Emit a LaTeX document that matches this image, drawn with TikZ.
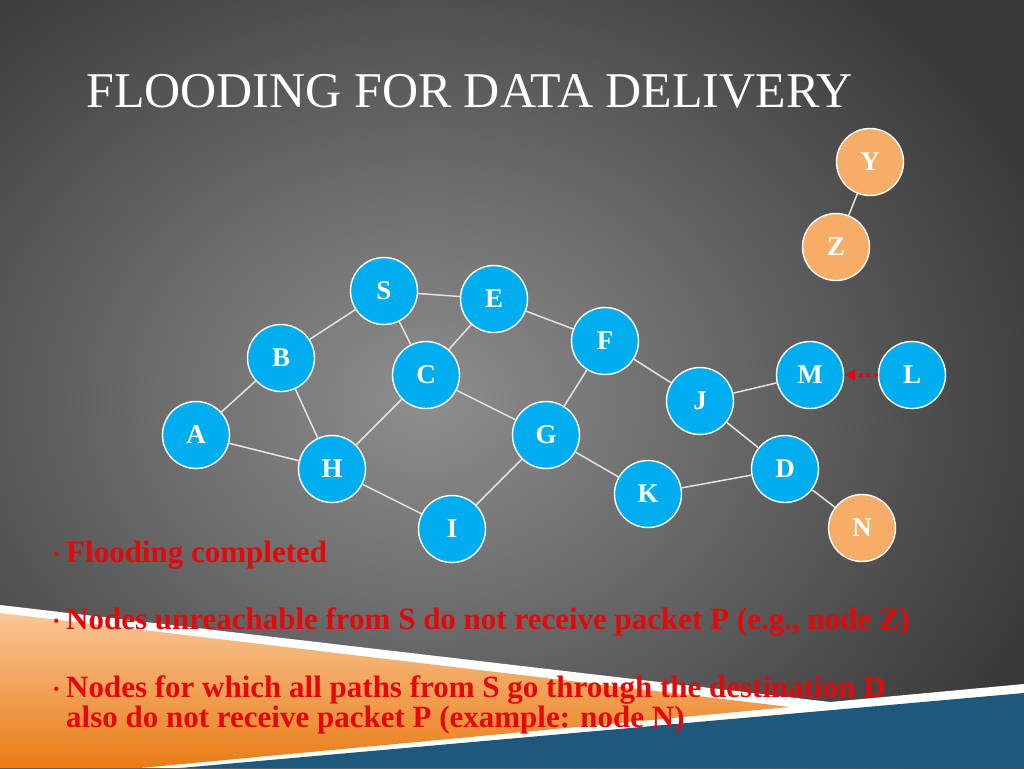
\documentclass[tikz,border=0pt]{standalone}
\usepackage{fontspec}
\setmainfont{Liberation Serif}
\usetikzlibrary{arrows.meta}
\definecolor{nodeblue}{RGB}{0,174,239}
\definecolor{nodeorange}{RGB}{246,173,104}
\definecolor{bandblue}{RGB}{30,88,124}
\definecolor{txtred}{RGB}{228,8,10}
\definecolor{edgegray}{RGB}{228,228,228}
\definecolor{bgin}{RGB}{142,142,142}
\definecolor{bgout}{RGB}{56,56,56}
\definecolor{orlight}{RGB}{249,198,150}
\definecolor{ordark}{RGB}{233,124,22}
\tikzset{
  bnode/.style={circle, draw=white, line width=1.4pt, fill=nodeblue, minimum size=67pt,
    inner sep=0pt, text=white, font=\bfseries\fontsize{27}{27}\selectfont},
  onode/.style={bnode, fill=nodeorange},
  edge/.style={edgegray, line width=1.5pt},
  bullettext/.style={anchor=base west, inner sep=0pt, text=txtred, align=left,
    font=\bfseries\fontsize{31}{28}\selectfont}
}
\newcommand{\bul}{\llap{\raisebox{3pt}{\fontsize{16}{16}\selectfont\textbullet}\hspace{7pt}}}

\begin{document}
\begin{tikzpicture}[x=1pt,y=-1pt]
        \useasboundingbox (0,0) rectangle (1024,768);
        \begin{scope}
        \clip (0,0) rectangle (1024,768);
        \shade[inner color=bgin, outer color=bgout] (-250,-150) rectangle (1100,950);
        \end{scope}
        % bottom bands
        \fill[white] (0,605) -- (830,702) -- (1024,684) -- (1024,768) -- (0,768) -- cycle;
        \shade[top color=orlight, bottom color=ordark] (0,613) -- (790,707) -- (140,768) -- (0,768) -- cycle;
        \fill[bandblue] (180,768) -- (1024,693) -- (1024,768) -- cycle;

        \node[anchor=base west, inner sep=0pt, text=white, font=\fontsize{50}{50}\selectfont] (title) at (86,107) {FLOODING FOR DATA DELIVERY};

        \foreach \n/\x/\y in {S/384/291, E/494/299, B/281/358, C/426/375, A/196/435, H/332/469,
                G/546/435, I/452/529, F/605/341, J/700/401, M/810/375, L/912/375, D/785/469, K/648/494}
        \node[bnode] (\n) at (\x,\y) {\n};
        \foreach \n/\x/\y in {Y/870/162, Z/836/247, N/862/528}
        \node[onode] (\n) at (\x,\y) {\n};

        \foreach \a/\b in {S/E, S/B, S/C, E/C, E/F, B/A, B/H, A/H, C/H, C/G, H/I, I/G, G/F, G/K,
                F/J, J/M, J/D, K/D, D/N, Y/Z}
        \draw[edge] (\a) -- (\b);
        \draw[txtred, line width=4.5pt, dash pattern=on 4pt off 3.5pt, -{Latex[length=11pt,width=13pt]}] (L) -- (M);

        \node[bullettext] (done) at (66,562) {\bul Flooding completed};
        \node[bullettext] (unreach) at (66,629) {\bul Nodes unreachable from S do not receive packet P (e.g., node Z)};
        \node[bullettext] (behind) at (66,727) {\bul Nodes for which all paths from S go through the destination D\\also do not receive packet P (example: node N)};
\end{tikzpicture}
\end{document}
